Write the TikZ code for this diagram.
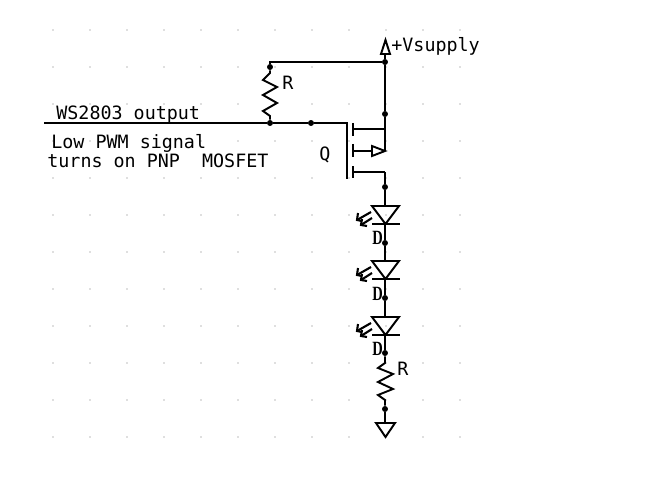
\documentclass[tikz,border=0pt]{standalone}
\usepackage{fontspec}
\setmainfont{DejaVu Sans Mono}
\newfontfamily\letterfont{Liberation Serif}
\tikzset{
    wire/.style = {line width=1.2pt, black},
    part/.style = {line width=1.1pt, black},
    dot/.style = {circle, fill=black, inner sep=0pt, minimum size=3.4pt},
    lbl/.style = {inner sep=0pt, anchor=west, font=\fontsize{10.45pt}{12pt}\selectfont},
}
\begin{document}
\begin{tikzpicture}[x=0.02cm, y=-0.02cm]
    \useasboundingbox (0,0) rectangle (666,500);
    % grid of the schematic editor
    \foreach \gx in {53,90,...,460}
        \foreach \gy in {30,67,...,437}
            \fill[black!25] (\gx,\gy) circle (0.45pt);

    % junctions
    \draw(270,67) node [dot](rtop){};
    \draw(270,123) node [dot](rbot){};
    \draw(311,123) node [dot](gate){};
    \draw(385,62) node [dot](rail){};
    \draw(385,114) node [dot](src){};
    \draw(385,187) node [dot](drn){};
    \draw(385,243) node [dot](d1){};
    \draw(385,298) node [dot](d2){};
    \draw(385,353) node [dot](d3){};
    \draw(385,409) node [dot](rlow){};

    % free ends
    \coordinate (in) at (44,123);
    \coordinate (corner) at (270,62);
    \coordinate (gtop) at (347,123);
    \coordinate (gbot) at (347,179);
    \coordinate (stop) at (385,129);
    \coordinate (smid) at (385,151);
    \coordinate (dtop) at (385,172);
    \coordinate (vtop) at (385,54);
    \coordinate (gndtop) at (385,423);

    \draw[wire] (in) -- (rbot);
    \draw[wire] (rbot) -- (gate);
    \draw[wire] (gate) -- (gtop) -- (gbot);
    \draw[wire] (rtop) -- (corner) -- (rail);
    \draw[wire] (vtop) -- (rail);
    \draw[wire] (rail) -- (src);
    \draw[wire] (src) -- (smid);
    \draw[wire] (dtop) -- (drn);

    % upper resistor
    \draw[part] (rtop) -- (270,73) -- (263,80) -- (277,87) -- (263,95) -- (277,103) -- (263,111) -- (270,116) -- (rbot);
    % lower resistor
    \draw[part] (d3) -- (385,363) -- (378,368) -- (393,374) -- (378,382) -- (393,389) -- (378,395) -- (385,400) -- (rlow);

    % mosfet
    \draw[wire] (353,123) -- (353,136);
    \draw[wire] (353,144) -- (353,157);
    \draw[wire] (353,166) -- (353,178);
    \draw[part] (353,129) -- (stop);
    \draw[part] (353,151) -- (372,151);
    \draw[part] (353,172) -- (dtop);
    \draw[part] (372,146) -- (smid) -- (372,156) -- cycle;

    % supply and ground
    \draw[part] (vtop) -- (381,54) -- (385.5,40) -- (390,54) -- cycle;
    \draw[wire] (rlow) -- (gndtop);
    \draw[part] (376,423) -- (395,423) -- (385.5,437) -- cycle;

    % leds
    \draw[wire] (drn) -- (385,206);
    \foreach \ly/\ln in {0/d1,55/d2,111/d3} {
        \draw[part] (372,206+\ly) -- (399,206+\ly) -- (385.5,224+\ly) -- cycle;
        \draw[part] (372,224+\ly) -- (400,224+\ly);
        \draw[wire] (385,224+\ly) -- (\ln);
        \draw[wire] (371,212+\ly) -- (357,220+\ly);
        \draw[wire] (372,218+\ly) -- (361,225+\ly);
        \draw[wire] (358,213+\ly) -- (357,220+\ly) -- (362,221+\ly);
        \draw[wire] (362,219+\ly) -- (361,225+\ly) -- (367,226+\ly);
    }
    \draw[wire] (d1) -- (385,261);
    \draw[wire] (d2) -- (385,317);

    % labels
    \node[lbl] (vlbl) at (391,46) {+Vsupply};
    \node[lbl] (rupper) at (282,83) {R};
    \node[lbl] (qlbl) at (319,155) {Q};
    \node[lbl] (rlower) at (397,369) {R};
    \node[lbl] (wslbl) at (56,115) {WS2803 output};
    \node[lbl] (lowlbl) at (51,143) {Low PWM signal};
    \node[lbl] (turnlbl) at (47,161) {turns on PNP\ \ MOSFET};
    \foreach \dy/\dn in {238/da,294/db,349/dc}
        \node[lbl, xscale=0.72, font=\fontsize{11.5pt}{12pt}\letterfont\bfseries] (\dn) at (372,\dy) {D};
\end{tikzpicture}
\end{document}
